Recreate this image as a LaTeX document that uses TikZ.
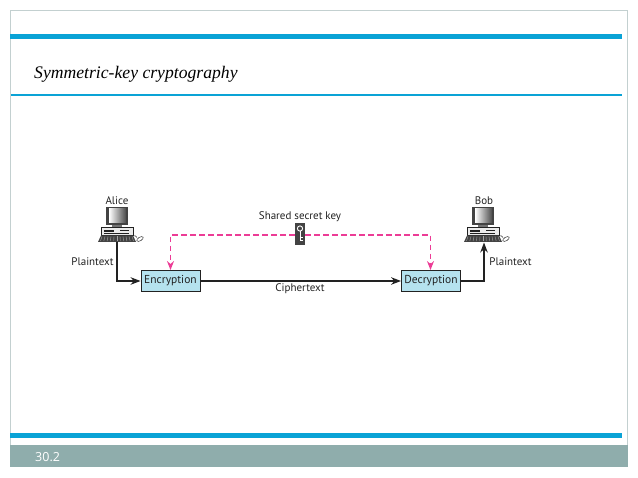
\documentclass[tikz,border=0pt]{standalone}
\usepackage{fontspec}
\setmainfont{PT Sans}
\newfontfamily\titlefont{Liberation Serif}
\newfontfamily\numfont{Open Sans}
\usetikzlibrary{arrows.meta,positioning,calc}
\definecolor{barblue}{HTML}{0AA3D6}
\definecolor{bandgrey}{HTML}{8FADAC}
\definecolor{framegrey}{HTML}{C3D0D0}
\definecolor{boxblue}{HTML}{B5E2EE}
\definecolor{keypink}{HTML}{EC3C96}
\definecolor{ink}{HTML}{222222}
\tikzset{
  x=1pt,y=-1pt,
  lbl/.style={inner sep=0pt,font=\fontsize{11}{13}\selectfont,text=ink},
  cipher/.style={draw=ink,line width=0.9pt,fill=boxblue,minimum width=59pt,minimum height=21pt,inner sep=0pt,font=\fontsize{11.5}{13}\selectfont,text=ink},
  flow/.style={draw=ink,line width=1.3pt,-{Stealth[length=10pt,width=7.5pt]}},
  keyline/.style={draw=keypink,line width=1.2pt,dash pattern=on 5.5pt off 3.5pt},
  keyarrow/.style={keyline,-{Stealth[length=9pt,width=7pt,color=keypink]}},
  pics/pc/.style={code={
    % monitor
    \fill[ink!85] (-11,-35) rectangle (11,-17);
    \shade[left color=white,right color=black!70] (-8,-33) rectangle (9,-19);
    \fill[black!55] (-5,-17) rectangle (5,-15);
    % system unit
    \draw[ink,fill=black!8,line width=0.6pt] (-16,-14.5) rectangle (16,-7);
    \fill[ink] (-13,-12) rectangle (-3,-10);
    \fill[ink] (3,-12) rectangle (12,-10.5);
    \draw[ink,line width=0.5pt] (-13,-8.7) -- (12,-8.7);
    % keyboard
    \fill[ink!85] (-16,-6.5) -- (16,-6.5) -- (19,0) -- (-19,0) -- cycle;
    \foreach \kx in {-15,-12,...,15}{\draw[white!65!black,line width=0.4pt] (\kx,-5.5) -- (\kx*1.1,-1);}
    % mouse
    \draw[ink,fill=white,line width=0.5pt,rotate around={30:(23,-3)}] (23,-3) ellipse (3.6 and 1.8);
    \draw[ink,line width=0.5pt] (16,-6) .. controls (18,-7) and (19,-6) .. (20,-4.5);
  }}
}
\begin{document}
\begin{tikzpicture}
\useasboundingbox (0,0) rectangle (638,478);
% slide
\draw[framegrey,line width=0.9pt] (10.5,467) -- (10.5,10.5) -- (627,10.5) -- (627,467);
\fill[barblue] (10,34) rectangle (622,39.5);
\fill[barblue] (10.5,94.5) rectangle (622,95.7);
\fill[barblue] (10,433) rectangle (622,438.5);
\fill[bandgrey] (10,445.5) rectangle (627.5,467.5);
\node[anchor=base west,inner sep=0pt,font=\titlefont\itshape\fontsize{17.65}{20}\selectfont,text=black] (title) at (34,78.5) {Symmetric-key cryptography};
\node[anchor=base west,inner sep=0pt,font=\numfont\fontsize{12.5}{14}\selectfont,text=white] (num) at (35,461.5) {30.2};
% computers
\pic at (117,242) {pc};
\pic at (483,242) {pc};
\coordinate (alicepc) at (117,242.5);
\coordinate (bobpc) at (484,242.5);
\node[lbl] (alice) at (117,200.5) {Alice};
\node[lbl] (bob) at (484,200.5) {Bob};
% boxes
\node[cipher] (enc) at (170.5,281) {\raisebox{-1.2pt}{Encryption}};
\node[cipher] (dec) at (431,281) {\raisebox{-1.2pt}{Decryption}};
% key
\node[fill=ink!85,minimum width=10pt,minimum height=22pt,inner sep=0pt] (key) at (300,234) {};
\draw[white,line width=0.9pt] (300,228.5) circle (2.6);
\draw[white,line width=1pt] (300,231) -- (300,241) (300,238) -- (303,238) (300,240.5) -- (303,240.5);
% connectors
\draw[flow] (alicepc) |- (enc.west);
\draw[flow] (enc.east) -- (dec.west);
\draw[flow] (dec.east) -| (bobpc);
\draw[keyarrow] (key.west |- 0,235) -| (enc.north -| 170.5,0);
\draw[keyarrow] (key.east |- 0,235) -| (dec.north -| 430.5,0);
% labels
\node[lbl] (ssk) at (300,216.5) {Shared secret key};
\node[lbl] (ct) at (300,289) {Ciphertext};
\node[lbl] (pl) at (92.5,262) {Plaintext};
\node[lbl] (pr) at (510.5,262) {Plaintext};
\end{tikzpicture}
\end{document}
